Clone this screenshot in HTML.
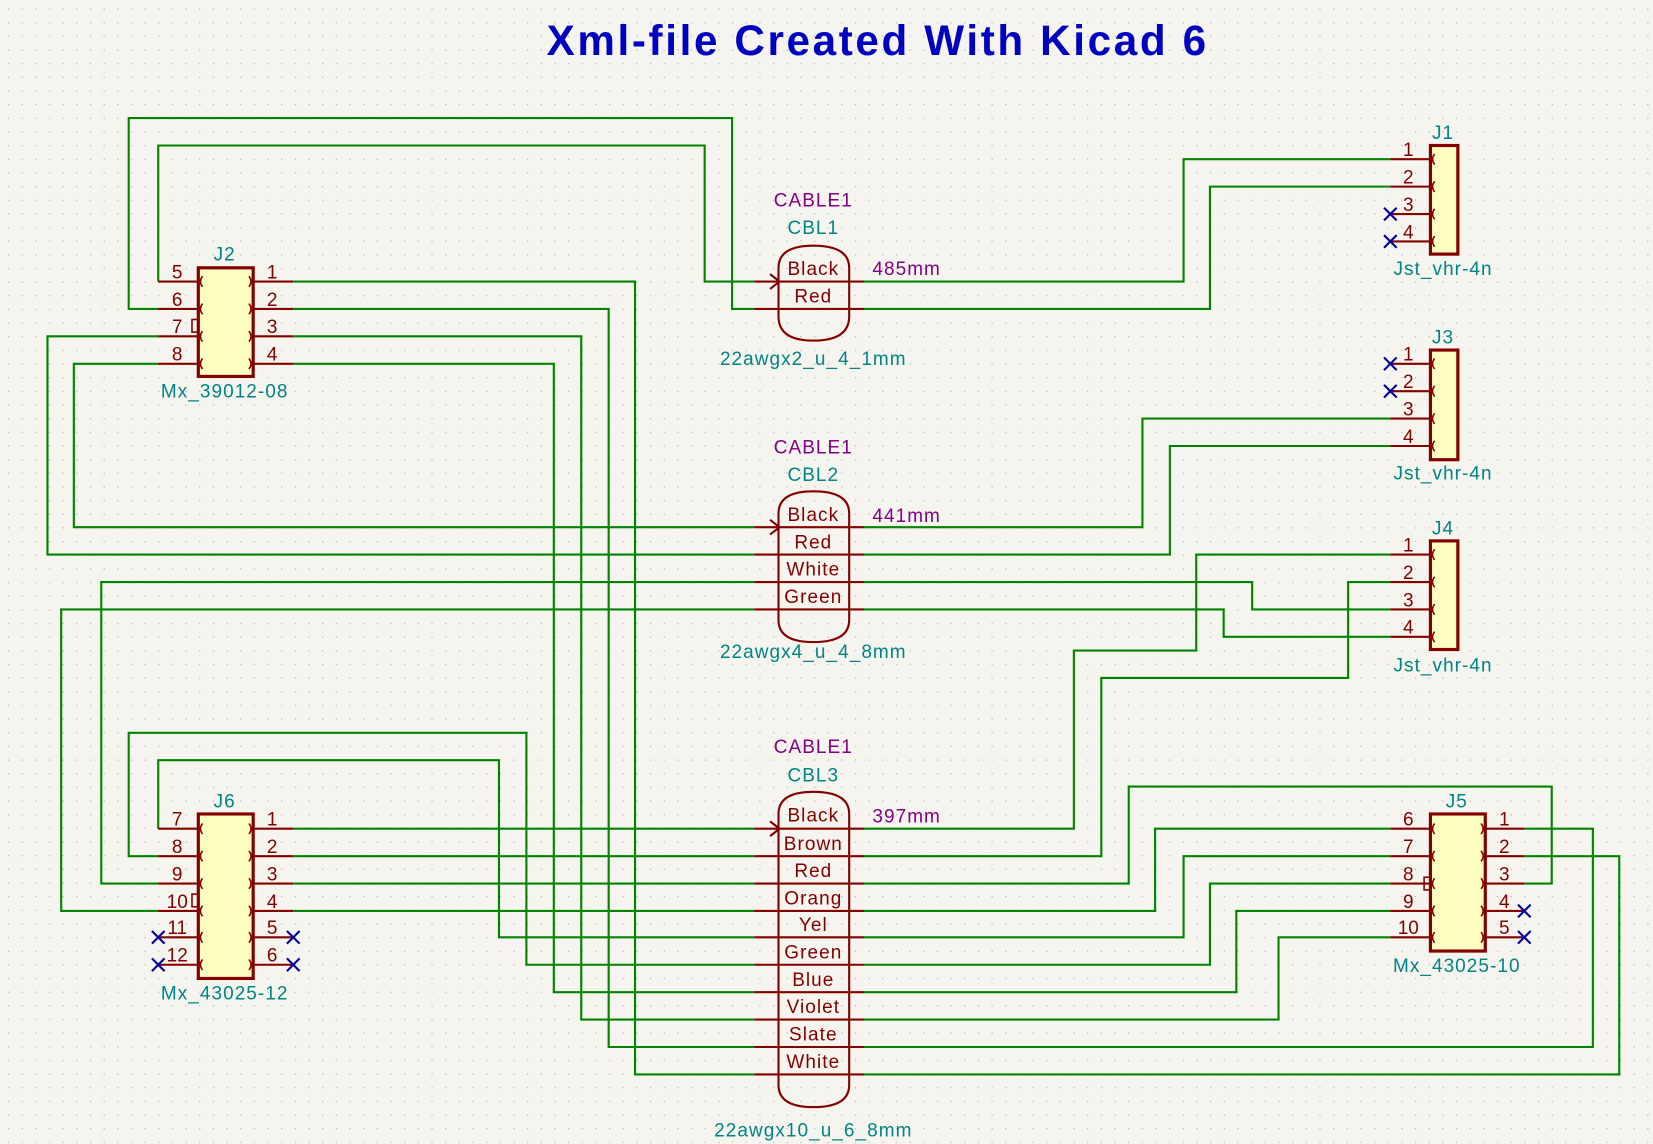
<!DOCTYPE html>
<html><head><meta charset="utf-8"><style>
html,body{margin:0;padding:0;background:#f5f4ef;}
svg{display:block}
text{font-family:"Liberation Sans",sans-serif;}
</style></head><body>
<svg width="1653" height="1144" viewBox="0 0 1567 1085" preserveAspectRatio="none" xmlns="http://www.w3.org/2000/svg">
<defs>
<pattern id="g" x="7.5" y="8" width="12.95" height="12.95" patternUnits="userSpaceOnUse">
<rect x="0" y="0" width="1.2" height="1.2" fill="#b8b8b8"/>
</pattern>
</defs>
<rect width="1567" height="1085" fill="#f5f4ef"/>
<rect width="1567" height="1085" fill="url(#g)"/>
<text x="832" y="52" text-anchor="middle" font-size="40" font-weight="bold" fill="#0000c0" letter-spacing="2.5">Xml-file Created With Kicad 6</text>

<g fill="none" stroke="#008400" stroke-width="2">
<polyline points="150,267 150,138 668,138 668,267 715,267"/>
<polyline points="150,293 122,293 122,112 694,112 694,293 715,293"/>
<polyline points="150,319 45,319 45,526 715,526"/>
<polyline points="150,345 70,345 70,500 715,500"/>
<polyline points="278,267 602,267 602,1019 715,1019"/>
<polyline points="278,293 577,293 577,993 715,993"/>
<polyline points="278,319 551,319 551,967 715,967"/>
<polyline points="278,345 525,345 525,941 715,941"/>
<polyline points="150,786 150,721 473,721 473,889 715,889"/>
<polyline points="150,812 122,812 122,695 499,695 499,915 715,915"/>
<polyline points="150,838 96,838 96,552 715,552"/>
<polyline points="150,864 58,864 58,578 715,578"/>
<polyline points="278,786 715,786"/>
<polyline points="278,812 715,812"/>
<polyline points="278,838 715,838"/>
<polyline points="278,864 715,864"/>
<polyline points="819,267 1122,267 1122,151 1318,151"/>
<polyline points="819,293 1147,293 1147,177 1318,177"/>
<polyline points="819,500 1083,500 1083,397 1318,397"/>
<polyline points="819,526 1109,526 1109,423 1318,423"/>
<polyline points="819,552 1187,552 1187,578 1318,578"/>
<polyline points="819,578 1160,578 1160,604 1318,604"/>
<polyline points="819,786 1018,786 1018,617 1134,617 1134,526 1318,526"/>
<polyline points="819,812 1044,812 1044,643 1278,643 1278,552 1318,552"/>
<polyline points="819,838 1070,838 1070,746 1471,746 1471,838 1445,838"/>
<polyline points="819,864 1095,864 1095,786 1318,786"/>
<polyline points="819,889 1122,889 1122,812 1318,812"/>
<polyline points="819,915 1147,915 1147,838 1318,838"/>
<polyline points="819,941 1172,941 1172,864 1318,864"/>
<polyline points="819,967 1212,967 1212,889 1318,889"/>
<polyline points="819,993 1510,993 1510,786 1445,786"/>
<polyline points="819,1019 1535,1019 1535,812 1445,812"/>
</g>

<g fill="none" stroke="#840000" stroke-width="2">
<path d="M738,300 L738,254 Q738,233 771,233 Q805,233 805,254 L805,300 Q805,323 771,323 Q738,323 738,300 Z"/>
<path d="M738,588 L738,487 Q738,466 771,466 Q805,466 805,487 L805,588 Q805,609 771,609 Q738,609 738,588 Z"/>
<path d="M738,1029 L738,772 Q738,751 771,751 Q805,751 805,772 L805,1029 Q805,1050 771,1050 Q738,1050 738,1029 Z"/>
<path d="M715,267H819M715,293H819M715,500H819M715,526H819M715,552H819M715,578H819M715,786H819M715,812H819M715,838H819M715,864H819M715,889H819M715,915H819M715,941H819M715,967H819M715,993H819M715,1019H819"/>
<path d="M730,260L739,267L730,274M730,493L739,500L730,507M730,779L739,786L730,793"/>
</g>
<g font-size="18" fill="#840000" text-anchor="middle" letter-spacing="1">
<text x="771" y="261">Black</text><text x="771" y="287">Red</text>
<text x="771" y="494">Black</text><text x="771" y="520">Red</text><text x="771" y="546">White</text><text x="771" y="572">Green</text>
<text x="771" y="779">Black</text><text x="771" y="806">Brown</text><text x="771" y="832">Red</text><text x="771" y="858">Orang</text><text x="771" y="883">Yel</text><text x="771" y="909">Green</text><text x="771" y="935">Blue</text><text x="771" y="961">Violet</text><text x="771" y="987">Slate</text><text x="771" y="1013">White</text>
</g>
<g font-size="18" letter-spacing="1">
<text x="771" y="196" text-anchor="middle" fill="#840084">CABLE1</text>
<text x="771" y="222" text-anchor="middle" fill="#008484">CBL1</text>
<text x="827" y="261" fill="#840084">485mm</text>
<text x="771" y="346" text-anchor="middle" fill="#008484">22awgx2_u_4_1mm</text>
<text x="771" y="430" text-anchor="middle" fill="#840084">CABLE1</text>
<text x="771" y="456" text-anchor="middle" fill="#008484">CBL2</text>
<text x="827" y="495" fill="#840084">441mm</text>
<text x="771" y="624" text-anchor="middle" fill="#008484">22awgx4_u_4_8mm</text>
<text x="771" y="714" text-anchor="middle" fill="#840084">CABLE1</text>
<text x="771" y="741" text-anchor="middle" fill="#008484">CBL3</text>
<text x="827" y="780" fill="#840084">397mm</text>
<text x="771" y="1078" text-anchor="middle" fill="#008484">22awgx10_u_6_8mm</text>
</g>

<g stroke="#840000" stroke-width="2" fill="none">
<path d="M150,267H188M150,293H188M150,319H188M150,345H188M240,267H278M240,293H278M240,319H278M240,345H278"/>
<path d="M150,786H188M150,812H188M150,838H188M150,864H188M150,889H188M150,915H188M240,786H278M240,812H278M240,838H278M240,864H278M240,889H278M240,915H278"/>
<path d="M1318,151H1356M1318,177H1356M1318,203H1356M1318,229H1356"/>
<path d="M1318,345H1356M1318,371H1356M1318,397H1356M1318,423H1356"/>
<path d="M1318,526H1356M1318,552H1356M1318,578H1356M1318,604H1356"/>
<path d="M1318,786H1356M1318,812H1356M1318,838H1356M1318,864H1356M1318,889H1356M1408,786H1445M1408,812H1445M1408,838H1445M1408,864H1445M1408,889H1445"/>
</g>
<g fill="#ffffc2" stroke="#840000" stroke-width="3">
<rect x="188" y="254" width="52" height="103"/>
<rect x="188" y="772" width="52" height="156"/>
<rect x="1356" y="138" width="26" height="103"/>
<rect x="1356" y="332" width="26" height="104"/>
<rect x="1356" y="513" width="26" height="103"/>
<rect x="1356" y="772" width="52" height="130"/>
</g>
<g fill="none" stroke="#840000" stroke-width="1.5">
<path d="M192,262Q188,267 192,272M192,288Q188,293 192,298M192,314Q188,319 192,324M192,340Q188,345 192,350M236,262Q240,267 236,272M236,288Q240,293 236,298M236,314Q240,319 236,324M236,340Q240,345 236,350"/>
<path d="M192,781Q188,786 192,791M192,807Q188,812 192,817M192,833Q188,838 192,843M192,859Q188,864 192,869M192,884Q188,889 192,894M192,910Q188,915 192,920M236,781Q240,786 236,791M236,807Q240,812 236,817M236,833Q240,838 236,843M236,859Q240,864 236,869M236,884Q240,889 236,894M236,910Q240,915 236,920"/>
<path d="M1360,146Q1356,151 1360,156M1360,172Q1356,177 1360,182M1360,198Q1356,203 1360,208M1360,224Q1356,229 1360,234"/>
<path d="M1360,340Q1356,345 1360,350M1360,366Q1356,371 1360,376M1360,392Q1356,397 1360,402M1360,418Q1356,423 1360,428"/>
<path d="M1360,521Q1356,526 1360,531M1360,547Q1356,552 1360,557M1360,573Q1356,578 1360,583M1360,599Q1356,604 1360,609"/>
<path d="M1360,781Q1356,786 1360,791M1360,807Q1356,812 1360,817M1360,833Q1356,838 1360,843M1360,859Q1356,864 1360,869M1360,884Q1356,889 1360,894M1404,781Q1408,786 1404,791M1404,807Q1408,812 1404,817M1404,833Q1408,838 1404,843M1404,859Q1408,864 1404,869M1404,884Q1408,889 1404,894"/>
<rect x="182" y="303" width="6" height="12"/><rect x="182" y="848" width="6" height="12"/><rect x="1350" y="832" width="6" height="12"/>
</g>
<g font-size="18" fill="#840000">
<g text-anchor="middle">
<text x="168" y="264">5</text><text x="168" y="290">6</text><text x="168" y="316">7</text><text x="168" y="342">8</text>
<text x="258" y="264">1</text><text x="258" y="290">2</text><text x="258" y="316">3</text><text x="258" y="342">4</text>
<text x="168" y="783">7</text><text x="168" y="809">8</text><text x="168" y="835">9</text><text x="168" y="861">10</text><text x="168" y="886">11</text><text x="168" y="912">12</text>
<text x="258" y="783">1</text><text x="258" y="809">2</text><text x="258" y="835">3</text><text x="258" y="861">4</text><text x="258" y="886">5</text><text x="258" y="912">6</text>
<text x="1335" y="148">1</text><text x="1335" y="174">2</text><text x="1335" y="200">3</text><text x="1335" y="226">4</text>
<text x="1335" y="342">1</text><text x="1335" y="368">2</text><text x="1335" y="394">3</text><text x="1335" y="420">4</text>
<text x="1335" y="523">1</text><text x="1335" y="549">2</text><text x="1335" y="575">3</text><text x="1335" y="601">4</text>
<text x="1335" y="783">6</text><text x="1335" y="809">7</text><text x="1335" y="835">8</text><text x="1335" y="861">9</text><text x="1335" y="886">10</text>
<text x="1426" y="783">1</text><text x="1426" y="809">2</text><text x="1426" y="835">3</text><text x="1426" y="861">4</text><text x="1426" y="886">5</text>
</g></g>
<g font-size="18" fill="#008484" text-anchor="middle" letter-spacing="1">
<text x="213" y="247">J2</text><text x="213" y="377">Mx_39012-08</text>
<text x="213" y="766">J6</text><text x="213" y="948">Mx_43025-12</text>
<text x="1368" y="132">J1</text><text x="1368" y="261">Jst_vhr-4n</text>
<text x="1368" y="326">J3</text><text x="1368" y="455">Jst_vhr-4n</text>
<text x="1368" y="507">J4</text><text x="1368" y="637">Jst_vhr-4n</text>
<text x="1381" y="766">J5</text><text x="1381" y="922">Mx_43025-10</text>
</g>
<g stroke="#0000a0" stroke-width="2">
<path d="M1312,197l12,12m0,-12l-12,12M1312,223l12,12m0,-12l-12,12"/>
<path d="M1312,339l12,12m0,-12l-12,12M1312,365l12,12m0,-12l-12,12"/>
<path d="M144,883l12,12m0,-12l-12,12M144,909l12,12m0,-12l-12,12"/>
<path d="M272,883l12,12m0,-12l-12,12M272,909l12,12m0,-12l-12,12"/>
<path d="M1439,858l12,12m0,-12l-12,12M1439,883l12,12m0,-12l-12,12"/>
</g>
</svg>
</body></html>
